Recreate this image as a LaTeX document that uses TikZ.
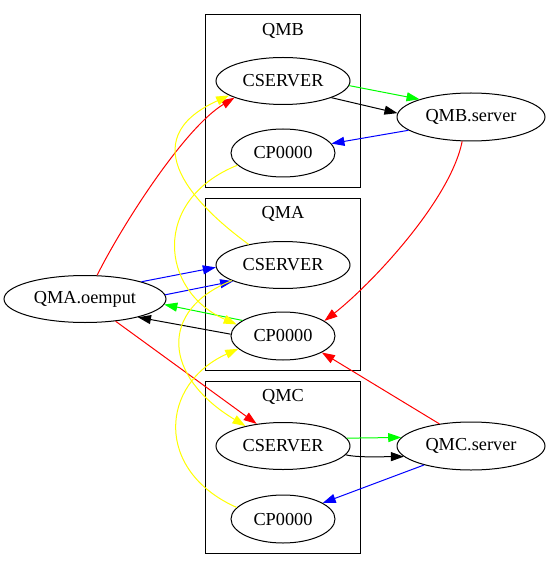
\documentclass[tikz,border=0pt]{standalone}
\usepackage{fontspec}
\setmainfont{Liberation Serif}
\usetikzlibrary{shapes.geometric,arrows.meta}
\definecolor{gvgreen}{RGB}{0,255,0}
\definecolor{gvblue}{RGB}{0,0,255}
\definecolor{gvred}{RGB}{255,0,0}
\definecolor{gvyellow}{RGB}{255,255,0}
\begin{document}
\begin{tikzpicture}[x=1pt,y=-1pt,
  el/.style={ellipse,draw,line width=1pt,inner sep=0pt,font=\fontsize{18.3}{20}\selectfont},
  cswide/.style={el,minimum width=134pt,minimum height=47pt},
  cpnode/.style={el,minimum width=104pt,minimum height=48pt},
  srvnode/.style={el,minimum width=148pt,minimum height=48pt},
  cbox/.style={draw,line width=1pt,inner sep=0pt},
  clbl/.style={font=\fontsize{18.3}{20}\selectfont,inner sep=0pt},
  conn/.style={line width=1pt,-{Triangle[length=13pt,width=9pt]}},
]
\useasboundingbox (0,0) rectangle (550,569);
% clusters
\node[cbox,minimum width=155pt,minimum height=173pt] (qmbbox) at (282.5,101.5) {};
\node[cbox,minimum width=155pt,minimum height=172pt] (qmabox) at (282.5,284) {};
\node[cbox,minimum width=155pt,minimum height=172pt] (qmcbox) at (283,467) {};
\node[clbl] (qmblbl) at (283,31) {QMB};
\node[clbl] (qmalbl) at (283,214) {QMA};
\node[clbl] (qmclbl) at (283,397) {QMC};
% nodes
\node[cswide] (qmbcs) at (283,81) {CSERVER};
\node[cpnode] (qmbcp) at (283,153) {CP0000};
\node[srvnode] (qmbsrv) at (471,117) {QMB.server};
\node[cswide] (qmacs) at (283,265) {CSERVER};
\node[cpnode] (qmacp) at (283,336) {CP0000};
\node[el,minimum width=162pt,minimum height=47pt] (oem) at (85,299) {QMA.oemput};
\node[cswide] (qmccs) at (283,446) {CSERVER};
\node[cpnode] (qmccp) at (283,519) {CP0000};
\node[srvnode] (qmcsrv) at (471,446) {QMC.server};
% edges
\draw[conn,gvgreen] (qmbcs.-4) -- (qmbsrv.161);
\draw[conn] (qmbcs.-19) -- (qmbsrv.177);
\draw[conn,gvblue] (qmbsrv.-168) -- (qmbcp.11);
\draw[conn,gvred] (qmbsrv.-110) .. controls +(-12,60) and +(45,-35) .. (qmacp.20);
\draw[conn,gvred] (qmcsrv.145) -- (qmacp.-23);
\draw[conn,gvgreen] (qmccs.7) -- (qmcsrv.173);
\draw[conn] (qmccs.-8) .. controls +(12,3) and +(-20,0) .. (qmcsrv.189);
\draw[conn,gvblue] (qmcsrv.-158) -- (qmccp.22);
\draw[conn,gvblue] (oem.17) -- (qmacs.182);
\draw[conn,gvblue] (oem.3) -- (qmacs.198);
\draw[conn,gvgreen] (qmacp.159) -- (oem.-4);
\draw[conn] (qmacp.178) -- (oem.-19);
\draw[conn,gvred] (oem.63) .. controls +(25,-50) and +(-50,30) .. (qmbcs.199);
\draw[conn,gvred] (oem.-36) -- (qmccs.140);
\draw[conn,gvyellow] (qmacs.149) .. controls +(-52,-38) and +(-99,45) .. (qmbcs.195);
\draw[conn,gvyellow] (qmbcp.195) .. controls +(-87,35) and +(-76,-33) .. (qmacp.166);
\draw[conn,gvyellow] (qmacs.197) .. controls +(-73,29) and +(-83,-50) .. (qmccs.152);
\draw[conn,gvyellow] (qmccp.166) .. controls +(-83,-37) and +(-78,35) .. (qmacp.196);
\end{tikzpicture}
\end{document}
